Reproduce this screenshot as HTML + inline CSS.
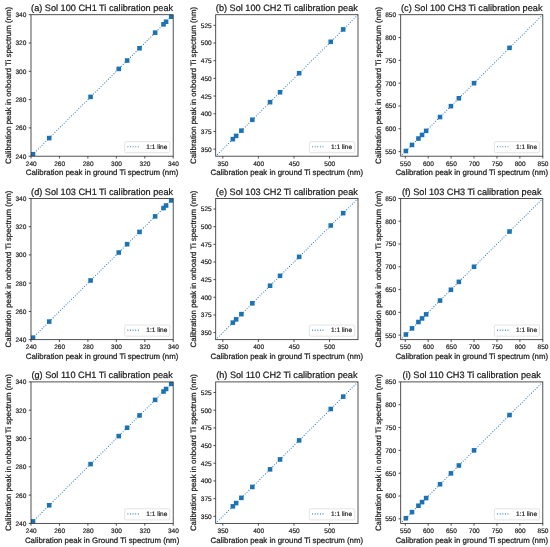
<!DOCTYPE html>
<html><head><meta charset="utf-8"><title>Ti calibration peaks</title>
<style>html,body{margin:0;padding:0;background:#fff}svg{display:block;font-family:"Liberation Sans",Arial,sans-serif}text{text-rendering:geometricPrecision;stroke:#1a1a1a;stroke-width:.22px;stroke-linejoin:round}.s{stroke-width:.19px}</style></head>
<body>
<svg width="550" height="547" viewBox="0 0 550 547" fill="#1a1a1a">
<rect width="550" height="547" fill="#fff"/>
<g>
<clipPath id="c0"><rect x="31.00" y="14.70" width="142.20" height="141.50"/></clipPath>
<g clip-path="url(#c0)">
<line x1="31.00" y1="156.20" x2="173.20" y2="14.70" stroke="#1b72b4" stroke-width="1.1" stroke-linecap="round" stroke-dasharray="0 2.60"/>
<rect x="30.70" y="151.93" width="4.58" height="4.58" fill="#1b72b4"/>
<rect x="46.91" y="135.80" width="4.58" height="4.58" fill="#1b72b4"/>
<rect x="88.29" y="94.62" width="4.58" height="4.58" fill="#1b72b4"/>
<rect x="116.45" y="66.61" width="4.58" height="4.58" fill="#1b72b4"/>
<rect x="124.84" y="58.26" width="4.58" height="4.58" fill="#1b72b4"/>
<rect x="137.21" y="45.95" width="4.58" height="4.58" fill="#1b72b4"/>
<rect x="152.85" y="30.38" width="4.58" height="4.58" fill="#1b72b4"/>
<rect x="161.24" y="22.03" width="4.58" height="4.58" fill="#1b72b4"/>
<rect x="163.80" y="19.49" width="4.58" height="4.58" fill="#1b72b4"/>
<rect x="168.92" y="14.39" width="4.58" height="4.58" fill="#1b72b4"/>
</g>
<path d="M31.00 156.20v2.29M59.44 156.20v2.29M87.88 156.20v2.29M116.32 156.20v2.29M144.76 156.20v2.29M173.20 156.20v2.29M31.00 156.20h-2.29M31.00 127.90h-2.29M31.00 99.60h-2.29M31.00 71.30h-2.29M31.00 43.00h-2.29M31.00 14.70h-2.29" stroke="#333" stroke-width="0.85" fill="none"/>
<rect x="31.00" y="14.70" width="142.20" height="141.50" fill="none" stroke="#333" stroke-width="0.85"/>
<text x="31.25" y="165.90" class="s" font-size="6.54" text-anchor="middle">240</text>
<text x="59.69" y="165.90" class="s" font-size="6.54" text-anchor="middle">260</text>
<text x="88.13" y="165.90" class="s" font-size="6.54" text-anchor="middle">280</text>
<text x="116.57" y="165.90" class="s" font-size="6.54" text-anchor="middle">300</text>
<text x="145.01" y="165.90" class="s" font-size="6.54" text-anchor="middle">320</text>
<text x="173.45" y="165.90" class="s" font-size="6.54" text-anchor="middle">340</text>
<text x="26.30" y="158.65" class="s" font-size="6.54" text-anchor="end">240</text>
<text x="26.30" y="130.35" class="s" font-size="6.54" text-anchor="end">260</text>
<text x="26.30" y="102.05" class="s" font-size="6.54" text-anchor="end">280</text>
<text x="26.30" y="73.75" class="s" font-size="6.54" text-anchor="end">300</text>
<text x="26.30" y="45.45" class="s" font-size="6.54" text-anchor="end">320</text>
<text x="26.30" y="17.15" class="s" font-size="6.54" text-anchor="end">340</text>
<text x="102.10" y="10.80" font-size="9.16" text-anchor="middle">(a) Sol 100 CH1 Ti calibration peak</text>
<text x="102.10" y="175.30" font-size="7.85" text-anchor="middle">Calibration peak in ground Ti spectrum (nm)</text>
<text transform="translate(11.40 85.45) rotate(-90)" font-size="7.85" text-anchor="middle">Calibration peak in onboard Ti spectrum (nm)</text>
<rect x="124.70" y="141.60" width="45.20" height="11.10" rx="1.3" fill="#fff" fill-opacity="0.8" stroke="#ccc" stroke-opacity="0.8" stroke-width="0.67"/>
<line x1="127.90" y1="146.70" x2="139.50" y2="146.70" stroke="#1b72b4" stroke-width="1.1" stroke-linecap="round" stroke-dasharray="0 2.60"/>
<text x="146.30" y="148.90" class="s" font-size="6.54">1:1 line</text>
</g>
<g>
<clipPath id="c1"><rect x="215.70" y="14.70" width="142.30" height="141.50"/></clipPath>
<g clip-path="url(#c1)">
<line x1="215.70" y1="156.20" x2="358.00" y2="14.70" stroke="#1b72b4" stroke-width="1.1" stroke-linecap="round" stroke-dasharray="0 2.60"/>
<rect x="230.56" y="136.86" width="4.58" height="4.58" fill="#1b72b4"/>
<rect x="233.83" y="133.61" width="4.58" height="4.58" fill="#1b72b4"/>
<rect x="239.10" y="128.37" width="4.58" height="4.58" fill="#1b72b4"/>
<rect x="250.05" y="117.47" width="4.58" height="4.58" fill="#1b72b4"/>
<rect x="267.77" y="99.86" width="4.58" height="4.58" fill="#1b72b4"/>
<rect x="277.73" y="89.95" width="4.58" height="4.58" fill="#1b72b4"/>
<rect x="296.87" y="70.92" width="4.58" height="4.58" fill="#1b72b4"/>
<rect x="328.46" y="39.51" width="4.58" height="4.58" fill="#1b72b4"/>
<rect x="340.91" y="27.13" width="4.58" height="4.58" fill="#1b72b4"/>
</g>
<path d="M222.81 156.20v2.29M258.39 156.20v2.29M293.97 156.20v2.29M329.54 156.20v2.29M215.70 149.12h-2.29M215.70 131.44h-2.29M215.70 113.75h-2.29M215.70 96.06h-2.29M215.70 78.37h-2.29M215.70 60.69h-2.29M215.70 43.00h-2.29M215.70 25.31h-2.29" stroke="#333" stroke-width="0.85" fill="none"/>
<rect x="215.70" y="14.70" width="142.30" height="141.50" fill="none" stroke="#333" stroke-width="0.85"/>
<text x="223.06" y="165.90" class="s" font-size="6.54" text-anchor="middle">350</text>
<text x="258.64" y="165.90" class="s" font-size="6.54" text-anchor="middle">400</text>
<text x="294.22" y="165.90" class="s" font-size="6.54" text-anchor="middle">450</text>
<text x="329.79" y="165.90" class="s" font-size="6.54" text-anchor="middle">500</text>
<text x="211.70" y="151.57" class="s" font-size="6.54" text-anchor="end">350</text>
<text x="211.70" y="133.89" class="s" font-size="6.54" text-anchor="end">375</text>
<text x="211.70" y="116.20" class="s" font-size="6.54" text-anchor="end">400</text>
<text x="211.70" y="98.51" class="s" font-size="6.54" text-anchor="end">425</text>
<text x="211.70" y="80.82" class="s" font-size="6.54" text-anchor="end">450</text>
<text x="211.70" y="63.14" class="s" font-size="6.54" text-anchor="end">475</text>
<text x="211.70" y="45.45" class="s" font-size="6.54" text-anchor="end">500</text>
<text x="211.70" y="27.76" class="s" font-size="6.54" text-anchor="end">525</text>
<text x="286.85" y="10.80" font-size="9.16" text-anchor="middle">(b) Sol 100 CH2 Ti calibration peak</text>
<text x="286.85" y="175.30" font-size="7.85" text-anchor="middle">Calibration peak in ground Ti spectrum (nm)</text>
<text transform="translate(196.20 85.45) rotate(-90)" font-size="7.85" text-anchor="middle">Calibration peak in onboard Ti spectrum (nm)</text>
<rect x="309.40" y="141.60" width="45.30" height="11.10" rx="1.3" fill="#fff" fill-opacity="0.8" stroke="#ccc" stroke-opacity="0.8" stroke-width="0.67"/>
<line x1="312.60" y1="146.70" x2="324.20" y2="146.70" stroke="#1b72b4" stroke-width="1.1" stroke-linecap="round" stroke-dasharray="0 2.60"/>
<text x="331.00" y="148.90" class="s" font-size="6.54">1:1 line</text>
</g>
<g>
<clipPath id="c2"><rect x="400.70" y="14.70" width="142.10" height="141.50"/></clipPath>
<g clip-path="url(#c2)">
<line x1="400.70" y1="156.20" x2="542.80" y2="14.70" stroke="#1b72b4" stroke-width="1.1" stroke-linecap="round" stroke-dasharray="0 2.60"/>
<rect x="403.59" y="148.75" width="4.58" height="4.58" fill="#1b72b4"/>
<rect x="409.73" y="142.64" width="4.58" height="4.58" fill="#1b72b4"/>
<rect x="416.15" y="136.25" width="4.58" height="4.58" fill="#1b72b4"/>
<rect x="419.77" y="132.64" width="4.58" height="4.58" fill="#1b72b4"/>
<rect x="423.85" y="128.58" width="4.58" height="4.58" fill="#1b72b4"/>
<rect x="437.74" y="114.75" width="4.58" height="4.58" fill="#1b72b4"/>
<rect x="448.65" y="103.88" width="4.58" height="4.58" fill="#1b72b4"/>
<rect x="456.58" y="95.99" width="4.58" height="4.58" fill="#1b72b4"/>
<rect x="471.75" y="80.88" width="4.58" height="4.58" fill="#1b72b4"/>
<rect x="507.23" y="45.55" width="4.58" height="4.58" fill="#1b72b4"/>
</g>
<path d="M405.28 156.20v2.29M428.20 156.20v2.29M451.12 156.20v2.29M474.04 156.20v2.29M496.96 156.20v2.29M519.88 156.20v2.29M542.80 156.20v2.29M400.70 151.64h-2.29M400.70 128.81h-2.29M400.70 105.99h-2.29M400.70 83.17h-2.29M400.70 60.35h-2.29M400.70 37.52h-2.29M400.70 14.70h-2.29" stroke="#333" stroke-width="0.85" fill="none"/>
<rect x="400.70" y="14.70" width="142.10" height="141.50" fill="none" stroke="#333" stroke-width="0.85"/>
<text x="405.53" y="165.90" class="s" font-size="6.54" text-anchor="middle">550</text>
<text x="428.45" y="165.90" class="s" font-size="6.54" text-anchor="middle">600</text>
<text x="451.37" y="165.90" class="s" font-size="6.54" text-anchor="middle">650</text>
<text x="474.29" y="165.90" class="s" font-size="6.54" text-anchor="middle">700</text>
<text x="497.21" y="165.90" class="s" font-size="6.54" text-anchor="middle">750</text>
<text x="520.13" y="165.90" class="s" font-size="6.54" text-anchor="middle">800</text>
<text x="543.05" y="165.90" class="s" font-size="6.54" text-anchor="middle">850</text>
<text x="396.10" y="154.09" class="s" font-size="6.54" text-anchor="end">550</text>
<text x="396.10" y="131.26" class="s" font-size="6.54" text-anchor="end">600</text>
<text x="396.10" y="108.44" class="s" font-size="6.54" text-anchor="end">650</text>
<text x="396.10" y="85.62" class="s" font-size="6.54" text-anchor="end">700</text>
<text x="396.10" y="62.80" class="s" font-size="6.54" text-anchor="end">750</text>
<text x="396.10" y="39.97" class="s" font-size="6.54" text-anchor="end">800</text>
<text x="396.10" y="17.15" class="s" font-size="6.54" text-anchor="end">850</text>
<text x="471.75" y="10.80" font-size="9.16" text-anchor="middle">(c) Sol 100 CH3 Ti calibration peak</text>
<text x="471.75" y="175.30" font-size="7.85" text-anchor="middle">Calibration peak in ground Ti spectrum (nm)</text>
<text transform="translate(380.80 85.45) rotate(-90)" font-size="7.85" text-anchor="middle">Calibration peak in onboard Ti spectrum (nm)</text>
<rect x="494.40" y="141.60" width="45.10" height="11.10" rx="1.3" fill="#fff" fill-opacity="0.8" stroke="#ccc" stroke-opacity="0.8" stroke-width="0.67"/>
<line x1="497.60" y1="146.70" x2="509.20" y2="146.70" stroke="#1b72b4" stroke-width="1.1" stroke-linecap="round" stroke-dasharray="0 2.60"/>
<text x="516.00" y="148.90" class="s" font-size="6.54">1:1 line</text>
</g>
<g>
<clipPath id="c3"><rect x="31.00" y="198.45" width="142.20" height="141.20"/></clipPath>
<g clip-path="url(#c3)">
<line x1="31.00" y1="339.65" x2="173.20" y2="198.45" stroke="#1b72b4" stroke-width="1.1" stroke-linecap="round" stroke-dasharray="0 2.60"/>
<rect x="30.70" y="335.38" width="4.58" height="4.58" fill="#1b72b4"/>
<rect x="46.91" y="319.29" width="4.58" height="4.58" fill="#1b72b4"/>
<rect x="88.29" y="278.20" width="4.58" height="4.58" fill="#1b72b4"/>
<rect x="116.45" y="250.24" width="4.58" height="4.58" fill="#1b72b4"/>
<rect x="124.84" y="241.91" width="4.58" height="4.58" fill="#1b72b4"/>
<rect x="137.21" y="229.63" width="4.58" height="4.58" fill="#1b72b4"/>
<rect x="152.85" y="214.09" width="4.58" height="4.58" fill="#1b72b4"/>
<rect x="161.24" y="205.76" width="4.58" height="4.58" fill="#1b72b4"/>
<rect x="163.80" y="203.22" width="4.58" height="4.58" fill="#1b72b4"/>
<rect x="168.92" y="198.14" width="4.58" height="4.58" fill="#1b72b4"/>
</g>
<path d="M31.00 339.65v2.29M59.44 339.65v2.29M87.88 339.65v2.29M116.32 339.65v2.29M144.76 339.65v2.29M173.20 339.65v2.29M31.00 339.65h-2.29M31.00 311.41h-2.29M31.00 283.17h-2.29M31.00 254.93h-2.29M31.00 226.69h-2.29M31.00 198.45h-2.29" stroke="#333" stroke-width="0.85" fill="none"/>
<rect x="31.00" y="198.45" width="142.20" height="141.20" fill="none" stroke="#333" stroke-width="0.85"/>
<text x="31.25" y="349.35" class="s" font-size="6.54" text-anchor="middle">240</text>
<text x="59.69" y="349.35" class="s" font-size="6.54" text-anchor="middle">260</text>
<text x="88.13" y="349.35" class="s" font-size="6.54" text-anchor="middle">280</text>
<text x="116.57" y="349.35" class="s" font-size="6.54" text-anchor="middle">300</text>
<text x="145.01" y="349.35" class="s" font-size="6.54" text-anchor="middle">320</text>
<text x="173.45" y="349.35" class="s" font-size="6.54" text-anchor="middle">340</text>
<text x="26.30" y="342.10" class="s" font-size="6.54" text-anchor="end">240</text>
<text x="26.30" y="313.86" class="s" font-size="6.54" text-anchor="end">260</text>
<text x="26.30" y="285.62" class="s" font-size="6.54" text-anchor="end">280</text>
<text x="26.30" y="257.38" class="s" font-size="6.54" text-anchor="end">300</text>
<text x="26.30" y="229.14" class="s" font-size="6.54" text-anchor="end">320</text>
<text x="26.30" y="200.90" class="s" font-size="6.54" text-anchor="end">340</text>
<text x="102.10" y="194.55" font-size="9.16" text-anchor="middle">(d) Sol 103 CH1 Ti calibration peak</text>
<text x="102.10" y="358.75" font-size="7.85" text-anchor="middle">Calibration peak in ground Ti spectrum (nm)</text>
<text transform="translate(11.40 269.05) rotate(-90)" font-size="7.85" text-anchor="middle">Calibration peak in onboard Ti spectrum (nm)</text>
<rect x="124.70" y="325.05" width="45.20" height="11.10" rx="1.3" fill="#fff" fill-opacity="0.8" stroke="#ccc" stroke-opacity="0.8" stroke-width="0.67"/>
<line x1="127.90" y1="330.15" x2="139.50" y2="330.15" stroke="#1b72b4" stroke-width="1.1" stroke-linecap="round" stroke-dasharray="0 2.60"/>
<text x="146.30" y="332.35" class="s" font-size="6.54">1:1 line</text>
</g>
<g>
<clipPath id="c4"><rect x="215.70" y="198.45" width="142.30" height="141.20"/></clipPath>
<g clip-path="url(#c4)">
<line x1="215.70" y1="339.65" x2="358.00" y2="198.45" stroke="#1b72b4" stroke-width="1.1" stroke-linecap="round" stroke-dasharray="0 2.60"/>
<rect x="230.56" y="320.35" width="4.58" height="4.58" fill="#1b72b4"/>
<rect x="233.83" y="317.10" width="4.58" height="4.58" fill="#1b72b4"/>
<rect x="239.10" y="311.87" width="4.58" height="4.58" fill="#1b72b4"/>
<rect x="250.05" y="301.00" width="4.58" height="4.58" fill="#1b72b4"/>
<rect x="267.77" y="283.42" width="4.58" height="4.58" fill="#1b72b4"/>
<rect x="277.73" y="273.54" width="4.58" height="4.58" fill="#1b72b4"/>
<rect x="296.87" y="254.55" width="4.58" height="4.58" fill="#1b72b4"/>
<rect x="328.46" y="223.20" width="4.58" height="4.58" fill="#1b72b4"/>
<rect x="340.91" y="210.85" width="4.58" height="4.58" fill="#1b72b4"/>
</g>
<path d="M222.81 339.65v2.29M258.39 339.65v2.29M293.97 339.65v2.29M329.54 339.65v2.29M215.70 332.59h-2.29M215.70 314.94h-2.29M215.70 297.29h-2.29M215.70 279.64h-2.29M215.70 261.99h-2.29M215.70 244.34h-2.29M215.70 226.69h-2.29M215.70 209.04h-2.29" stroke="#333" stroke-width="0.85" fill="none"/>
<rect x="215.70" y="198.45" width="142.30" height="141.20" fill="none" stroke="#333" stroke-width="0.85"/>
<text x="223.06" y="349.35" class="s" font-size="6.54" text-anchor="middle">350</text>
<text x="258.64" y="349.35" class="s" font-size="6.54" text-anchor="middle">400</text>
<text x="294.22" y="349.35" class="s" font-size="6.54" text-anchor="middle">450</text>
<text x="329.79" y="349.35" class="s" font-size="6.54" text-anchor="middle">500</text>
<text x="211.70" y="335.04" class="s" font-size="6.54" text-anchor="end">350</text>
<text x="211.70" y="317.39" class="s" font-size="6.54" text-anchor="end">375</text>
<text x="211.70" y="299.74" class="s" font-size="6.54" text-anchor="end">400</text>
<text x="211.70" y="282.09" class="s" font-size="6.54" text-anchor="end">425</text>
<text x="211.70" y="264.44" class="s" font-size="6.54" text-anchor="end">450</text>
<text x="211.70" y="246.79" class="s" font-size="6.54" text-anchor="end">475</text>
<text x="211.70" y="229.14" class="s" font-size="6.54" text-anchor="end">500</text>
<text x="211.70" y="211.49" class="s" font-size="6.54" text-anchor="end">525</text>
<text x="286.85" y="194.55" font-size="9.16" text-anchor="middle">(e) Sol 103 CH2 Ti calibration peak</text>
<text x="286.85" y="358.75" font-size="7.85" text-anchor="middle">Calibration peak in ground Ti spectrum (nm)</text>
<text transform="translate(196.20 269.05) rotate(-90)" font-size="7.85" text-anchor="middle">Calibration peak in onboard Ti spectrum (nm)</text>
<rect x="309.40" y="325.05" width="45.30" height="11.10" rx="1.3" fill="#fff" fill-opacity="0.8" stroke="#ccc" stroke-opacity="0.8" stroke-width="0.67"/>
<line x1="312.60" y1="330.15" x2="324.20" y2="330.15" stroke="#1b72b4" stroke-width="1.1" stroke-linecap="round" stroke-dasharray="0 2.60"/>
<text x="331.00" y="332.35" class="s" font-size="6.54">1:1 line</text>
</g>
<g>
<clipPath id="c5"><rect x="400.70" y="198.45" width="142.10" height="141.20"/></clipPath>
<g clip-path="url(#c5)">
<line x1="400.70" y1="339.65" x2="542.80" y2="198.45" stroke="#1b72b4" stroke-width="1.1" stroke-linecap="round" stroke-dasharray="0 2.60"/>
<rect x="403.59" y="332.21" width="4.58" height="4.58" fill="#1b72b4"/>
<rect x="409.73" y="326.11" width="4.58" height="4.58" fill="#1b72b4"/>
<rect x="416.15" y="319.73" width="4.58" height="4.58" fill="#1b72b4"/>
<rect x="419.77" y="316.14" width="4.58" height="4.58" fill="#1b72b4"/>
<rect x="423.85" y="312.08" width="4.58" height="4.58" fill="#1b72b4"/>
<rect x="437.74" y="298.28" width="4.58" height="4.58" fill="#1b72b4"/>
<rect x="448.65" y="287.44" width="4.58" height="4.58" fill="#1b72b4"/>
<rect x="456.58" y="279.56" width="4.58" height="4.58" fill="#1b72b4"/>
<rect x="471.75" y="264.48" width="4.58" height="4.58" fill="#1b72b4"/>
<rect x="507.23" y="229.23" width="4.58" height="4.58" fill="#1b72b4"/>
</g>
<path d="M405.28 339.65v2.29M428.20 339.65v2.29M451.12 339.65v2.29M474.04 339.65v2.29M496.96 339.65v2.29M519.88 339.65v2.29M542.80 339.65v2.29M400.70 335.10h-2.29M400.70 312.32h-2.29M400.70 289.55h-2.29M400.70 266.77h-2.29M400.70 244.00h-2.29M400.70 221.22h-2.29M400.70 198.45h-2.29" stroke="#333" stroke-width="0.85" fill="none"/>
<rect x="400.70" y="198.45" width="142.10" height="141.20" fill="none" stroke="#333" stroke-width="0.85"/>
<text x="405.53" y="349.35" class="s" font-size="6.54" text-anchor="middle">550</text>
<text x="428.45" y="349.35" class="s" font-size="6.54" text-anchor="middle">600</text>
<text x="451.37" y="349.35" class="s" font-size="6.54" text-anchor="middle">650</text>
<text x="474.29" y="349.35" class="s" font-size="6.54" text-anchor="middle">700</text>
<text x="497.21" y="349.35" class="s" font-size="6.54" text-anchor="middle">750</text>
<text x="520.13" y="349.35" class="s" font-size="6.54" text-anchor="middle">800</text>
<text x="543.05" y="349.35" class="s" font-size="6.54" text-anchor="middle">850</text>
<text x="396.10" y="337.55" class="s" font-size="6.54" text-anchor="end">550</text>
<text x="396.10" y="314.77" class="s" font-size="6.54" text-anchor="end">600</text>
<text x="396.10" y="292.00" class="s" font-size="6.54" text-anchor="end">650</text>
<text x="396.10" y="269.22" class="s" font-size="6.54" text-anchor="end">700</text>
<text x="396.10" y="246.45" class="s" font-size="6.54" text-anchor="end">750</text>
<text x="396.10" y="223.67" class="s" font-size="6.54" text-anchor="end">800</text>
<text x="396.10" y="200.90" class="s" font-size="6.54" text-anchor="end">850</text>
<text x="471.75" y="194.55" font-size="9.16" text-anchor="middle">(f) Sol 103 CH3 Ti calibration peak</text>
<text x="471.75" y="358.75" font-size="7.85" text-anchor="middle">Calibration peak in ground Ti spectrum (nm)</text>
<text transform="translate(380.80 269.05) rotate(-90)" font-size="7.85" text-anchor="middle">Calibration peak in onboard Ti spectrum (nm)</text>
<rect x="494.40" y="325.05" width="45.10" height="11.10" rx="1.3" fill="#fff" fill-opacity="0.8" stroke="#ccc" stroke-opacity="0.8" stroke-width="0.67"/>
<line x1="497.60" y1="330.15" x2="509.20" y2="330.15" stroke="#1b72b4" stroke-width="1.1" stroke-linecap="round" stroke-dasharray="0 2.60"/>
<text x="516.00" y="332.35" class="s" font-size="6.54">1:1 line</text>
</g>
<g>
<clipPath id="c6"><rect x="31.00" y="381.90" width="142.20" height="141.50"/></clipPath>
<g clip-path="url(#c6)">
<line x1="31.00" y1="523.40" x2="173.20" y2="381.90" stroke="#1b72b4" stroke-width="1.1" stroke-linecap="round" stroke-dasharray="0 2.60"/>
<rect x="30.70" y="519.13" width="4.58" height="4.58" fill="#1b72b4"/>
<rect x="46.91" y="503.00" width="4.58" height="4.58" fill="#1b72b4"/>
<rect x="88.29" y="461.82" width="4.58" height="4.58" fill="#1b72b4"/>
<rect x="116.45" y="433.81" width="4.58" height="4.58" fill="#1b72b4"/>
<rect x="124.84" y="425.46" width="4.58" height="4.58" fill="#1b72b4"/>
<rect x="137.21" y="413.15" width="4.58" height="4.58" fill="#1b72b4"/>
<rect x="152.85" y="397.58" width="4.58" height="4.58" fill="#1b72b4"/>
<rect x="161.24" y="389.23" width="4.58" height="4.58" fill="#1b72b4"/>
<rect x="163.80" y="386.69" width="4.58" height="4.58" fill="#1b72b4"/>
<rect x="168.92" y="381.59" width="4.58" height="4.58" fill="#1b72b4"/>
</g>
<path d="M31.00 523.40v2.29M59.44 523.40v2.29M87.88 523.40v2.29M116.32 523.40v2.29M144.76 523.40v2.29M173.20 523.40v2.29M31.00 523.40h-2.29M31.00 495.10h-2.29M31.00 466.80h-2.29M31.00 438.50h-2.29M31.00 410.20h-2.29M31.00 381.90h-2.29" stroke="#333" stroke-width="0.85" fill="none"/>
<rect x="31.00" y="381.90" width="142.20" height="141.50" fill="none" stroke="#333" stroke-width="0.85"/>
<text x="31.25" y="533.10" class="s" font-size="6.54" text-anchor="middle">240</text>
<text x="59.69" y="533.10" class="s" font-size="6.54" text-anchor="middle">260</text>
<text x="88.13" y="533.10" class="s" font-size="6.54" text-anchor="middle">280</text>
<text x="116.57" y="533.10" class="s" font-size="6.54" text-anchor="middle">300</text>
<text x="145.01" y="533.10" class="s" font-size="6.54" text-anchor="middle">320</text>
<text x="173.45" y="533.10" class="s" font-size="6.54" text-anchor="middle">340</text>
<text x="26.30" y="525.85" class="s" font-size="6.54" text-anchor="end">240</text>
<text x="26.30" y="497.55" class="s" font-size="6.54" text-anchor="end">260</text>
<text x="26.30" y="469.25" class="s" font-size="6.54" text-anchor="end">280</text>
<text x="26.30" y="440.95" class="s" font-size="6.54" text-anchor="end">300</text>
<text x="26.30" y="412.65" class="s" font-size="6.54" text-anchor="end">320</text>
<text x="26.30" y="384.35" class="s" font-size="6.54" text-anchor="end">340</text>
<text x="102.10" y="378.00" font-size="9.16" text-anchor="middle">(g) Sol 110 CH1 Ti calibration peak</text>
<text x="102.10" y="542.50" font-size="7.85" text-anchor="middle">Calibration peak in Ground Ti spectrum (nm)</text>
<text transform="translate(11.40 452.65) rotate(-90)" font-size="7.85" text-anchor="middle">Calibration peak in onboard Ti spectrum (nm)</text>
<rect x="124.70" y="508.80" width="45.20" height="11.10" rx="1.3" fill="#fff" fill-opacity="0.8" stroke="#ccc" stroke-opacity="0.8" stroke-width="0.67"/>
<line x1="127.90" y1="513.90" x2="139.50" y2="513.90" stroke="#1b72b4" stroke-width="1.1" stroke-linecap="round" stroke-dasharray="0 2.60"/>
<text x="146.30" y="516.10" class="s" font-size="6.54">1:1 line</text>
</g>
<g>
<clipPath id="c7"><rect x="215.70" y="381.90" width="142.30" height="141.50"/></clipPath>
<g clip-path="url(#c7)">
<line x1="215.70" y1="523.40" x2="358.00" y2="381.90" stroke="#1b72b4" stroke-width="1.1" stroke-linecap="round" stroke-dasharray="0 2.60"/>
<rect x="230.56" y="504.06" width="4.58" height="4.58" fill="#1b72b4"/>
<rect x="233.83" y="500.81" width="4.58" height="4.58" fill="#1b72b4"/>
<rect x="239.10" y="495.57" width="4.58" height="4.58" fill="#1b72b4"/>
<rect x="250.05" y="484.67" width="4.58" height="4.58" fill="#1b72b4"/>
<rect x="267.77" y="467.06" width="4.58" height="4.58" fill="#1b72b4"/>
<rect x="277.73" y="457.15" width="4.58" height="4.58" fill="#1b72b4"/>
<rect x="296.87" y="438.12" width="4.58" height="4.58" fill="#1b72b4"/>
<rect x="328.46" y="406.71" width="4.58" height="4.58" fill="#1b72b4"/>
<rect x="340.91" y="394.33" width="4.58" height="4.58" fill="#1b72b4"/>
</g>
<path d="M222.81 523.40v2.29M258.39 523.40v2.29M293.97 523.40v2.29M329.54 523.40v2.29M215.70 516.32h-2.29M215.70 498.64h-2.29M215.70 480.95h-2.29M215.70 463.26h-2.29M215.70 445.57h-2.29M215.70 427.89h-2.29M215.70 410.20h-2.29M215.70 392.51h-2.29" stroke="#333" stroke-width="0.85" fill="none"/>
<rect x="215.70" y="381.90" width="142.30" height="141.50" fill="none" stroke="#333" stroke-width="0.85"/>
<text x="223.06" y="533.10" class="s" font-size="6.54" text-anchor="middle">350</text>
<text x="258.64" y="533.10" class="s" font-size="6.54" text-anchor="middle">400</text>
<text x="294.22" y="533.10" class="s" font-size="6.54" text-anchor="middle">450</text>
<text x="329.79" y="533.10" class="s" font-size="6.54" text-anchor="middle">500</text>
<text x="211.70" y="518.77" class="s" font-size="6.54" text-anchor="end">350</text>
<text x="211.70" y="501.09" class="s" font-size="6.54" text-anchor="end">375</text>
<text x="211.70" y="483.40" class="s" font-size="6.54" text-anchor="end">400</text>
<text x="211.70" y="465.71" class="s" font-size="6.54" text-anchor="end">425</text>
<text x="211.70" y="448.02" class="s" font-size="6.54" text-anchor="end">450</text>
<text x="211.70" y="430.34" class="s" font-size="6.54" text-anchor="end">475</text>
<text x="211.70" y="412.65" class="s" font-size="6.54" text-anchor="end">500</text>
<text x="211.70" y="394.96" class="s" font-size="6.54" text-anchor="end">525</text>
<text x="286.85" y="378.00" font-size="9.16" text-anchor="middle">(h) Sol 110 CH2 Ti calibration peak</text>
<text x="286.85" y="542.50" font-size="7.85" text-anchor="middle">Calibration peak in ground Ti spectrum (nm)</text>
<text transform="translate(196.20 452.65) rotate(-90)" font-size="7.85" text-anchor="middle">Calibration peak in onboard Ti spectrum (nm)</text>
<rect x="309.40" y="508.80" width="45.30" height="11.10" rx="1.3" fill="#fff" fill-opacity="0.8" stroke="#ccc" stroke-opacity="0.8" stroke-width="0.67"/>
<line x1="312.60" y1="513.90" x2="324.20" y2="513.90" stroke="#1b72b4" stroke-width="1.1" stroke-linecap="round" stroke-dasharray="0 2.60"/>
<text x="331.00" y="516.10" class="s" font-size="6.54">1:1 line</text>
</g>
<g>
<clipPath id="c8"><rect x="400.70" y="381.90" width="142.10" height="141.50"/></clipPath>
<g clip-path="url(#c8)">
<line x1="400.70" y1="523.40" x2="542.80" y2="381.90" stroke="#1b72b4" stroke-width="1.1" stroke-linecap="round" stroke-dasharray="0 2.60"/>
<rect x="403.59" y="515.95" width="4.58" height="4.58" fill="#1b72b4"/>
<rect x="409.73" y="509.84" width="4.58" height="4.58" fill="#1b72b4"/>
<rect x="416.15" y="503.45" width="4.58" height="4.58" fill="#1b72b4"/>
<rect x="419.77" y="499.84" width="4.58" height="4.58" fill="#1b72b4"/>
<rect x="423.85" y="495.78" width="4.58" height="4.58" fill="#1b72b4"/>
<rect x="437.74" y="481.95" width="4.58" height="4.58" fill="#1b72b4"/>
<rect x="448.65" y="471.08" width="4.58" height="4.58" fill="#1b72b4"/>
<rect x="456.58" y="463.19" width="4.58" height="4.58" fill="#1b72b4"/>
<rect x="471.75" y="448.08" width="4.58" height="4.58" fill="#1b72b4"/>
<rect x="507.23" y="412.75" width="4.58" height="4.58" fill="#1b72b4"/>
</g>
<path d="M405.28 523.40v2.29M428.20 523.40v2.29M451.12 523.40v2.29M474.04 523.40v2.29M496.96 523.40v2.29M519.88 523.40v2.29M542.80 523.40v2.29M400.70 518.84h-2.29M400.70 496.01h-2.29M400.70 473.19h-2.29M400.70 450.37h-2.29M400.70 427.55h-2.29M400.70 404.72h-2.29M400.70 381.90h-2.29" stroke="#333" stroke-width="0.85" fill="none"/>
<rect x="400.70" y="381.90" width="142.10" height="141.50" fill="none" stroke="#333" stroke-width="0.85"/>
<text x="405.53" y="533.10" class="s" font-size="6.54" text-anchor="middle">550</text>
<text x="428.45" y="533.10" class="s" font-size="6.54" text-anchor="middle">600</text>
<text x="451.37" y="533.10" class="s" font-size="6.54" text-anchor="middle">650</text>
<text x="474.29" y="533.10" class="s" font-size="6.54" text-anchor="middle">700</text>
<text x="497.21" y="533.10" class="s" font-size="6.54" text-anchor="middle">750</text>
<text x="520.13" y="533.10" class="s" font-size="6.54" text-anchor="middle">800</text>
<text x="543.05" y="533.10" class="s" font-size="6.54" text-anchor="middle">850</text>
<text x="396.10" y="521.29" class="s" font-size="6.54" text-anchor="end">550</text>
<text x="396.10" y="498.46" class="s" font-size="6.54" text-anchor="end">600</text>
<text x="396.10" y="475.64" class="s" font-size="6.54" text-anchor="end">650</text>
<text x="396.10" y="452.82" class="s" font-size="6.54" text-anchor="end">700</text>
<text x="396.10" y="430.00" class="s" font-size="6.54" text-anchor="end">750</text>
<text x="396.10" y="407.17" class="s" font-size="6.54" text-anchor="end">800</text>
<text x="396.10" y="384.35" class="s" font-size="6.54" text-anchor="end">850</text>
<text x="471.75" y="378.00" font-size="9.16" text-anchor="middle">(i) Sol 110 CH3 Ti calibration peak</text>
<text x="471.75" y="542.50" font-size="7.85" text-anchor="middle">Calibration peak in ground Ti spectrum (nm)</text>
<text transform="translate(380.80 452.65) rotate(-90)" font-size="7.85" text-anchor="middle">Calibration peak in onboard Ti spectrum (nm)</text>
<rect x="494.40" y="508.80" width="45.10" height="11.10" rx="1.3" fill="#fff" fill-opacity="0.8" stroke="#ccc" stroke-opacity="0.8" stroke-width="0.67"/>
<line x1="497.60" y1="513.90" x2="509.20" y2="513.90" stroke="#1b72b4" stroke-width="1.1" stroke-linecap="round" stroke-dasharray="0 2.60"/>
<text x="516.00" y="516.10" class="s" font-size="6.54">1:1 line</text>
</g>
</svg>
</body></html>
